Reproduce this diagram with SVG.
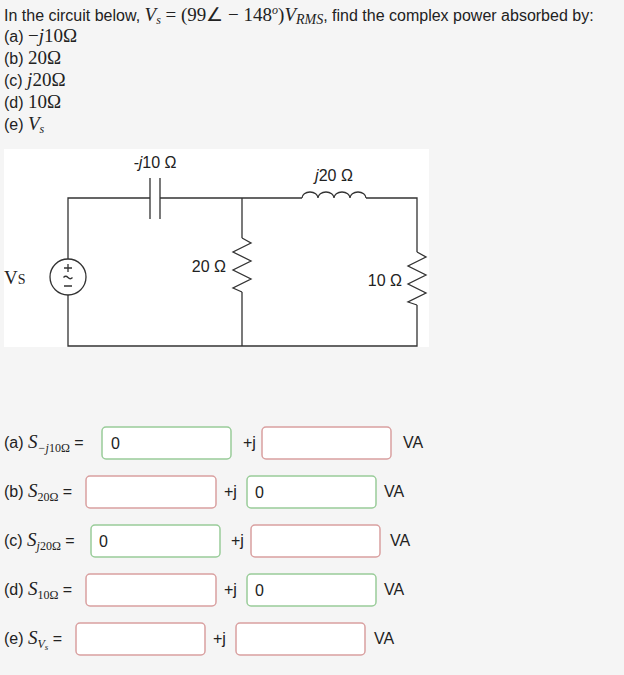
<svg xmlns="http://www.w3.org/2000/svg" width="624" height="675" viewBox="0 0 624 675">
<style>
.t{font-family:"Liberation Sans",Arial,sans-serif;font-size:16px;fill:#222}
.m{font-family:"Liberation Serif","Times New Roman",serif;font-size:19px;fill:#222}
.i{font-style:italic}
.s{font-size:12px}
.s2{font-size:9px}
.w{fill:none;stroke:#333;stroke-width:1.3}
.g{fill:#fff;stroke:#9c9;stroke-width:1.5}
.r{fill:#fff;stroke:#d9a0a0;stroke-width:1.5}
.c{font-family:"Liberation Sans",Arial,sans-serif;font-size:16px;fill:#222}
</style>
<rect width="624" height="675" fill="#f5f5f5"/>
<text class="t" x="4" y="21">In the circuit below, <tspan class="m i">V</tspan><tspan class="m i s" dy="3">s</tspan><tspan class="m" dy="-3"> = (99∠ − 148</tspan><tspan class="m i s" dy="-7">o</tspan><tspan class="m" dy="7">)</tspan><tspan class="m i">V</tspan><tspan class="m i" style="font-size:14px" dy="3">RMS</tspan><tspan dy="-3">, find the complex power absorbed by:</tspan></text>
<text class="t" x="4" y="42">(a) <tspan class="m">−</tspan><tspan class="m i">j</tspan><tspan class="m">10Ω</tspan></text>
<text class="t" x="4" y="64">(b) <tspan class="m">20Ω</tspan></text>
<text class="t" x="4" y="86">(c) <tspan class="m i">j</tspan><tspan class="m">20Ω</tspan></text>
<text class="t" x="4" y="108">(d) <tspan class="m">10Ω</tspan></text>
<text class="t" x="4" y="130">(e) <tspan class="m i">V</tspan><tspan class="m i s" dy="3">s</tspan></text>

<rect x="4" y="149" width="425" height="198" fill="#fff"/>
<g id="wires">
<path class="w" d="M150 198H68V259M68 295V346H417V305M417 252V198H366M302 198H160M242 198V238M242 292V346"/>
</g>
<g id="cap"><path class="w" d="M150 178V219M160 178V219"/><text class="c" x="155" y="168" text-anchor="middle"><tspan font-style="italic">-j</tspan>10 Ω</text></g>
<g id="ind"><path class="w" d="M302 198a8 6 0 0 1 16 0a8 6 0 0 1 16 0a8 6 0 0 1 16 0a8 6 0 0 1 16 0"/><text class="c" x="334" y="181" text-anchor="middle"><tspan font-style="italic">j</tspan>20 Ω</text></g>
<g id="r20"><path class="w" d="M242 238L251 243L233 252L251 261L233 270L251 279L233 288L242 292"/><text class="c" x="226" y="272" text-anchor="end">20 Ω</text></g>
<g id="r10"><path class="w" d="M417 252L426 257L408 266L426 275L408 284L426 293L408 302L417 305"/><text class="c" x="402" y="286" text-anchor="end">10 Ω</text></g>
<g id="src"><circle class="w" cx="68" cy="277" r="18"/><path class="w" d="M64 268H72M68 264V272M64 286H72M63.5 277.5q2.2 -2.5 4.5 0t4.5 0"/><text class="m" x="4" y="284">V<tspan style="font-size:14px">S</tspan></text></g>

<g id="rowa"><text class="t" x="4" y="448">(a) <tspan class="m i">S</tspan><tspan class="m i s" dy="4">−j</tspan><tspan class="m s">10Ω</tspan><tspan dy="-4"> =</tspan></text>
<rect class="g" x="102" y="427" width="129" height="32" rx="4"/><text class="t" x="111" y="449">0</text>
<text class="t" x="243" y="448">+j</text><rect class="r" x="262" y="427" width="129" height="32" rx="4"/><text class="t" x="403" y="448">VA</text></g>
<g id="rowb"><text class="t" x="4" y="497">(b) <tspan class="m i">S</tspan><tspan class="m s" dy="4">20Ω</tspan><tspan dy="-4"> =</tspan></text>
<rect class="r" x="86" y="476" width="130" height="32" rx="4"/>
<text class="t" x="224" y="497">+j</text><rect class="g" x="247" y="476" width="129" height="32" rx="4"/><text class="t" x="255" y="498">0</text><text class="t" x="384" y="497">VA</text></g>
<g id="rowc"><text class="t" x="4" y="546">(c) <tspan class="m i">S</tspan><tspan class="m i s" dy="4">j</tspan><tspan class="m s">20Ω</tspan><tspan dy="-4"> =</tspan></text>
<rect class="g" x="91" y="525" width="129" height="32" rx="4"/><text class="t" x="99" y="547">0</text>
<text class="t" x="231" y="546">+j</text><rect class="r" x="251" y="525" width="129" height="32" rx="4"/><text class="t" x="390" y="546">VA</text></g>
<g id="rowd"><text class="t" x="4" y="595">(d) <tspan class="m i">S</tspan><tspan class="m s" dy="4">10Ω</tspan><tspan dy="-4"> =</tspan></text>
<rect class="r" x="86" y="574" width="130" height="32" rx="4"/>
<text class="t" x="224" y="595">+j</text><rect class="g" x="247" y="574" width="129" height="32" rx="4"/><text class="t" x="255" y="596">0</text><text class="t" x="384" y="595">VA</text></g>
<g id="rowe"><text class="t" x="4" y="644">(e) <tspan class="m i">S</tspan><tspan class="m i s" dy="4">V</tspan><tspan class="m i s2" dy="2">s</tspan><tspan dy="-6"> =</tspan></text>
<rect class="r" x="76" y="623" width="129" height="32" rx="4"/>
<text class="t" x="213" y="644">+j</text><rect class="r" x="236" y="623" width="129" height="32" rx="4"/><text class="t" x="374" y="644">VA</text></g>
</svg>
